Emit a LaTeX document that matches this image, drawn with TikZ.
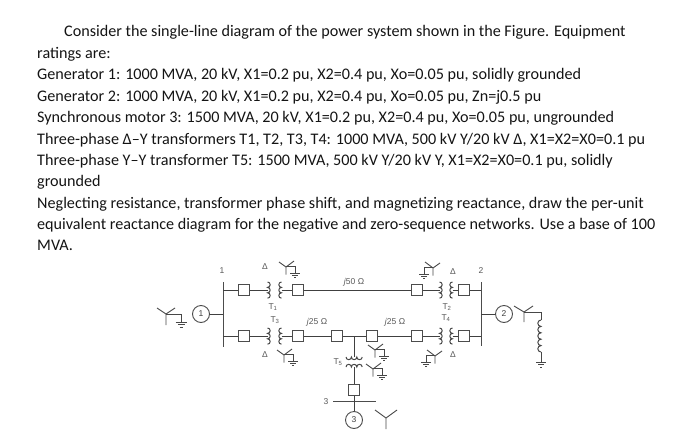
\documentclass[tikz,border=0pt]{standalone}
\usepackage{fontspec}
\setmainfont{Carlito}
\newfontfamily\diagfont{Liberation Sans}
\tikzset{
  para/.style={anchor=base west,inner sep=0pt,font=\fontsize{16.15}{18}\selectfont,text=black!92},
  wire/.style={draw=black!75,line width=1pt},
  busbar/.style={draw=black!70,line width=1pt},
  breaker/.style={draw=black!70,fill=white,line width=0.9pt,minimum size=11.5pt,inner sep=0pt},
  machine/.style={circle,draw=black!70,fill=white,line width=0.9pt,minimum size=17pt,inner sep=0pt,font=\diagfont\fontsize{8.5}{9}\selectfont,text=black!75},
  lab/.style={inner sep=0pt,font=\diagfont\fontsize{8.5}{9}\selectfont,text=black!65},
  sym/.style={draw=black!72,line width=0.9pt},
  coilline/.style={draw=black!72,line width=1pt},
}
% grounded Y winding: centre #1
\newcommand{\wyeg}[1]{\begin{scope}[shift={(#1)}]
  \draw[sym] (0,0)--(0,7.5) (0,0)--(-7,-5) (0,0)--(8,-6);
  \draw[sym] (0,-0.5)--(9,-0.5)--(9,6);
  \draw[sym] (4,6)--(14,6) (6,8.3)--(12,8.3) (8,10.6)--(10,10.6);
\end{scope}}
% facing coils on a horizontal wire: centre #1, half width #2
\newcommand{\coilpair}[2]{\begin{scope}[shift={(#1)}]
  \draw[coilline] (-#2,-8) arc[start angle=-90,end angle=90,radius=2.7] arc[start angle=-90,end angle=90,radius=2.7] arc[start angle=-90,end angle=90,radius=2.7];
  \draw[coilline] (#2,-8) arc[start angle=-90,end angle=-270,radius=2.7] arc[start angle=-90,end angle=-270,radius=2.7] arc[start angle=-90,end angle=-270,radius=2.7];
\end{scope}}
\begin{document}
\begin{tikzpicture}[x=1pt,y=-1pt]
\useasboundingbox (0,0) rectangle (700,433);
\node[para] (l1) at (64,37) {Consider the single-line diagram of the power system shown in the Figure. Equipment};
\node[para] (l2) at (37,59) {ratings are:};
\node[para] (l3) at (37,80) {Generator 1: 1000 MVA, 20 kV, X1=0.2 pu, X2=0.4 pu, Xo=0.05 pu, solidly grounded};
\node[para] (l4) at (37,101) {Generator 2: 1000 MVA, 20 kV, X1=0.2 pu, X2=0.4 pu, Xo=0.05 pu, Zn=j0.5 pu};
\node[para] (l5) at (37,122) {Synchronous motor 3: 1500 MVA, 20 kV, X1=0.2 pu, X2=0.4 pu, Xo=0.05 pu, ungrounded};
\node[para] (l6) at (37,144) {Three-phase Δ–Y transformers T1, T2, T3, T4: 1000 MVA, 500 kV Y/20 kV Δ, X1=X2=X0=0.1 pu};
\node[para] (l7) at (37,165) {Three-phase Y–Y transformer T5: 1500 MVA, 500 kV Y/20 kV Y, X1=X2=X0=0.1 pu, solidly};
\node[para] (l8) at (37,186) {grounded};
\node[para] (l9) at (37,208) {Neglecting resistance, transformer phase shift, and magnetizing reactance, draw the per-unit};
\node[para] (l10) at (37,229) {equivalent reactance diagram for the negative and zero-sequence networks. Use a base of 100};
\node[para] (l11) at (37,250) {MVA.};

% buses
\coordinate (b1t) at (223,282); \coordinate (b1b) at (223,347);
\coordinate (b2t) at (481,282); \coordinate (b2b) at (481,346);
\coordinate (b3l) at (333,401); \coordinate (b3r) at (376,401);
\draw[busbar] (b1t)--(b1b) (b2t)--(b2b) (b3l)--(b3r);
\coordinate (b1u) at (223,290); \coordinate (b1d) at (223,336);
\coordinate (b2u) at (481,290); \coordinate (b2d) at (481,336);
\coordinate (b1m) at (223,314); \coordinate (b2m) at (481,314);
\coordinate (b3m) at (354,401);

\node[machine] (g1) at (201,314) {1};
\node[machine] (g2) at (504,314) {2};
\node[machine] (g3) at (354,420) {3};

\node[breaker] (a1) at (244,290) {};
\node[breaker] (a2) at (298,290) {};
\node[breaker] (a3) at (417,290) {};
\node[breaker] (a4) at (464,290) {};
\node[breaker] (c1) at (244,336) {};
\node[breaker] (c2) at (298,336) {};
\node[breaker] (c3) at (337,336) {};
\node[breaker] (c4) at (372,336) {};
\node[breaker] (c5) at (417,336) {};
\node[breaker] (c6) at (464,336) {};
\node[breaker] (d1) at (354,390) {};

\coordinate (t1a) at (267.5,290); \coordinate (t1b) at (281.5,290);
\coordinate (t3a) at (267.5,336); \coordinate (t3b) at (281.5,336);
\coordinate (t2a) at (439.5,290); \coordinate (t2b) at (452.5,290);
\coordinate (t4a) at (439.5,336); \coordinate (t4b) at (452.5,336);
\coordinate (t5a) at (354,357); \coordinate (t5b) at (354,367);
\coordinate (tap) at (354,336);

\draw[wire] (g1)--(b1m) (g2)--(b2m) (g3)--(b3m);
\draw[wire] (b1u)--(a1) (a1)--(t1a) (t1b)--(a2) (a2)--(a3) (a3)--(t2a) (t2b)--(a4) (a4)--(b2u);
\draw[wire] (b1d)--(c1) (c1)--(t3a) (t3b)--(c2) (c2)--(c3) (c3)--(c4) (c4)--(c5) (c5)--(t4a) (t4b)--(c6) (c6)--(b2d);
\draw[wire] (tap)--(t5a) (t5b)--(d1) (d1)--(b3m);

\coilpair{274.5,290}{7}
\coilpair{274.5,336}{7}
\coilpair{446,290}{6.5}
\coilpair{446,336}{6.5}
% T5 coils, on the vertical wire
\draw[coilline] (346,357) arc[start angle=180,end angle=0,radius=2.7] arc[start angle=180,end angle=0,radius=2.7] arc[start angle=180,end angle=0,radius=2.7];
\draw[coilline] (346,367) arc[start angle=180,end angle=360,radius=2.7] arc[start angle=180,end angle=360,radius=2.7] arc[start angle=180,end angle=360,radius=2.7];

% grounded wyes of the transformers
\wyeg{286,267}
\wyeg{284,355}
\wyeg{375,350}
\wyeg{373,369}
\begin{scope}[xscale=-1]
\wyeg{-433,268}
\wyeg{-435,356}
\end{scope}

% generator 1 wye
\coordinate (w1) at (166,314);
\draw[sym] (w1)--(166,325) (w1)--(157,308) (w1)--(175,308);
\draw[sym] (w1)--(181,314)--(181,322);
\draw[sym] (175.5,322)--(186.5,322) (177.5,324.5)--(184.5,324.5) (179.5,327)--(182.5,327);

% generator 2 wye with reactor
\coordinate (w2) at (524,312);
\draw[sym] (w2)--(524,322) (w2)--(514,306) (w2)--(533,306);
\draw[sym] (w2)--(541,312)--(541,320);
\draw[coilline] (541,320) arc[start angle=-90,end angle=-270,radius=3.2] arc[start angle=-90,end angle=-270,radius=3.2] arc[start angle=-90,end angle=-270,radius=3.2] arc[start angle=-90,end angle=-270,radius=3.2] arc[start angle=-90,end angle=-270,radius=3.2];
\draw[sym] (541,352)--(541,362);
\draw[sym] (536,362)--(546,362) (538,364.5)--(544,364.5) (540,367)--(542,367);

% motor wye, ungrounded
\coordinate (w3) at (386,418);
\draw[sym] (w3)--(386,429) (w3)--(375,410) (w3)--(397,410);

% labels
\node[lab] (n1) at (222,271) {1};
\node[lab] (n2) at (481,271) {2};
\node[lab] (n3) at (326,402) {3};
\node[lab] (d1l) at (265,267) {Δ};
\node[lab] (d2l) at (453,272) {Δ};
\node[lab] (d3l) at (265,355) {Δ};
\node[lab] (d4l) at (453,355) {Δ};
\node[lab] (t1l) at (273,307) {T\textsubscript{1}};
\node[lab] (t2l) at (447,307) {T\textsubscript{2}};
\node[lab] (t3l) at (275,320) {T\textsubscript{3}};
\node[lab] (t4l) at (446,318) {T\textsubscript{4}};
\node[lab] (t5l) at (338,362) {T\textsubscript{5}};
\node[lab] (x50) at (354,282) {\textit{j}50 Ω};
\node[lab] (x25a) at (317,322) {\textit{j}25 Ω};
\node[lab] (x25b) at (395,322) {\textit{j}25 Ω};
\end{tikzpicture}
\end{document}
